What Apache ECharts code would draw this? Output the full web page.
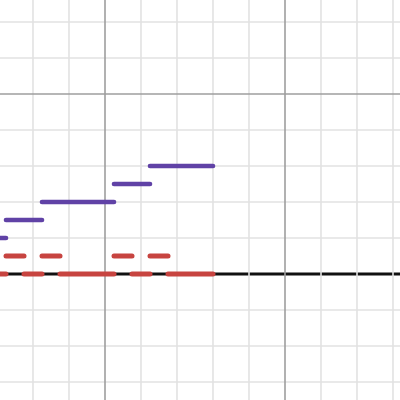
<!DOCTYPE html>
<html>
  <head>
    <meta charset="utf-8">
    <title>steps</title>
    <script src="https://cdn.jsdelivr.net/npm/echarts@6/dist/echarts.min.js"></script>
    <style>
      html, body { margin: 0; padding: 0; background: #fff; }
      #chart { width: 400px; height: 400px; }
    </style>
  </head>
  <body>
    <div id="chart"></div>
    <script>
      // visible window (graph units)
      var xMin = -2.9167, xMax = 8.1944
      var yMin = -3.5000, yMax = 7.6111

      // grid lines
      var minorX = [-2, -1, 1, 2, 3, 4, 6, 7, 8]
      var majorX = [0, 5]
      var minorY = [-3, -2, -1, 1, 2, 3, 4, 6, 7]
      var majorY = [5]

      // purple steps
      var stepStart = [-3, -2.75, -1.75, 0.25, 1.25]
      var stepEnd = [-2.75, -1.75, 0.25, 1.25, 3]
      var stepLevel = [1, 1.5, 2, 2.5, 3]

      // red pieces at y = 0.5
      var redHiStart = [-2.75, -1.75, 0.25, 1.25]
      var redHiEnd = [-2.25, -1.25, 0.75, 1.75]
      var redHiLevel = 0.5

      // red pieces at y = 0
      var redLoStart = [-3, -2.25, -1.25, 0.75, 1.75]
      var redLoEnd = [-2.75, -1.75, 0.25, 1.25, 3]
      var redLoLevel = 0

      var purple = '#6042a6'
      var red = '#c74440'

      function segs(starts, ends, levels, color, width) {
        return starts.map(function (s, i) {
          var y = Array.isArray(levels) ? levels[i] : levels
          return {
            type: 'line',
            data: [[s, y], [ends[i], y]],
            showSymbol: false,
            silent: true,
            lineStyle: { color: color, width: width, cap: 'round' },
            z: 5
          }
        })
      }

      function gridLine(axis, v, color) {
        var d = {}
        d[axis] = v
        d.lineStyle = { color: color, width: 1.6, type: 'solid' }
        return d
      }

      var gridData = []
      minorX.forEach(function (v) { gridData.push(gridLine('xAxis', v, '#e2e2e2')) })
      minorY.forEach(function (v) { gridData.push(gridLine('yAxis', v, '#e2e2e2')) })
      majorX.forEach(function (v) { gridData.push(gridLine('xAxis', v, '#9e9e9e')) })
      majorY.forEach(function (v) { gridData.push(gridLine('yAxis', v, '#9e9e9e')) })

      var series = [{
        type: 'line',
        data: [],
        silent: true,
        markLine: {
          silent: true,
          symbol: 'none',
          label: { show: false },
          animation: false,
          data: gridData
        },
        z: 1
      }, {
        type: 'line',
        data: [[xMin, 0], [xMax, 0]],
        showSymbol: false,
        silent: true,
        lineStyle: { color: '#111', width: 3 },
        z: 2
      }]
      series = series.concat(segs(redLoStart, redLoEnd, redLoLevel, red, 5))
      series = series.concat(segs(redHiStart, redHiEnd, redHiLevel, red, 5))
      series = series.concat(segs(stepStart, stepEnd, stepLevel, purple, 4.6))

      var myChart = echarts.init(document.getElementById('chart'))
      myChart.setOption({
        animation: false,
        grid: { left: 0, right: 0, top: 0, bottom: 0, containLabel: false },
        xAxis: {
          type: 'value', min: xMin, max: xMax,
          axisLine: { show: false }, axisTick: { show: false },
          axisLabel: { show: false }, splitLine: { show: false }
        },
        yAxis: {
          type: 'value', min: yMin, max: yMax,
          axisLine: { show: false }, axisTick: { show: false },
          axisLabel: { show: false }, splitLine: { show: false }
        },
        series: series
      })
    </script>
  </body>
</html>
